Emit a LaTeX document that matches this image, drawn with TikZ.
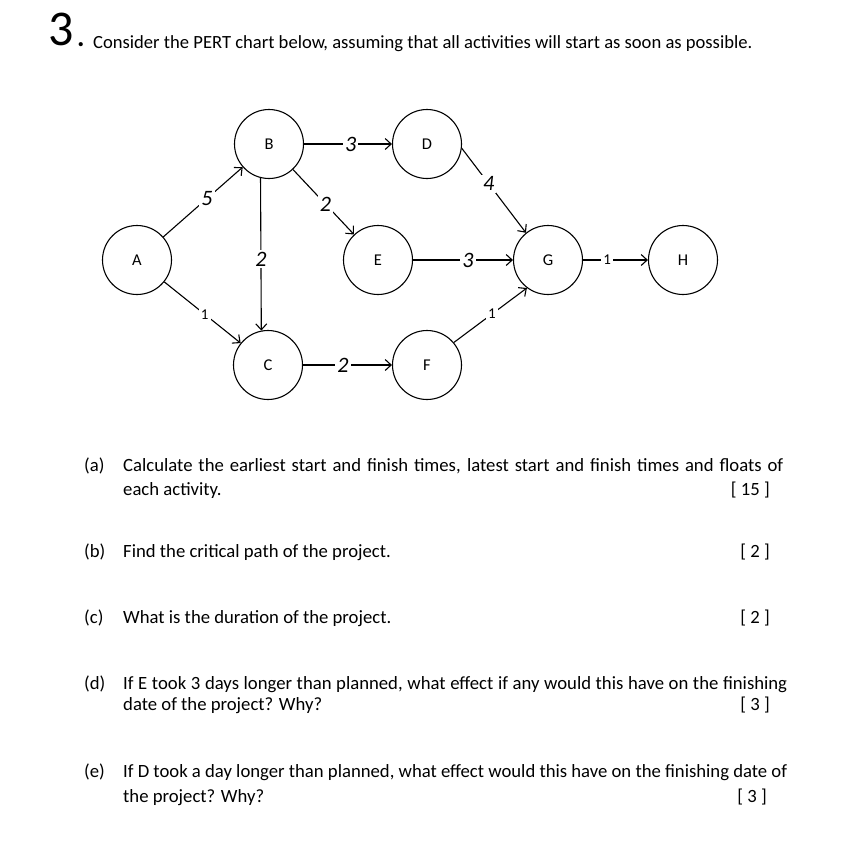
\documentclass[tikz,border=0pt]{standalone}
\usepackage{fontspec}
\setmainfont{Carlito}
\usetikzlibrary{arrows.meta}
\begin{document}
\begin{tikzpicture}[x=1pt,y=-1pt,
  ev/.style={draw,circle,minimum size=69pt,inner sep=0pt,line width=1.1pt,font=\fontsize{16.5}{18}\selectfont},
  act/.style={line width=1.1pt,-{Straight Barb[length=6pt,width=11pt,line width=1.1pt]}},
  lab/.style={fill=white,inner sep=2pt,font=\fontsize{22}{24}\selectfont\itshape},
  labs/.style={fill=white,inner sep=2pt,font=\fontsize{15}{18}\selectfont},
  txt/.style={anchor=base west,inner sep=0pt,font=\fontsize{18.7}{22}\selectfont},
  mk/.style={anchor=base east,inner sep=0pt,font=\fontsize{18.7}{22}\selectfont}]
\useasboundingbox (0,0) rectangle (865,841);
\fill[white] (0,0) rectangle (865,841);
% header
\node[anchor=base west,inner sep=0pt,font=\fontsize{50}{52}\selectfont] (num) at (48,45) {3};
\node[anchor=base west,inner sep=0pt,font=\fontsize{28}{30}\selectfont\bfseries] (dot) at (77,46) {.};
\node[txt,font=\fontsize{18.6}{22}\selectfont] (intro) at (93,48) {Consider the PERT chart below, assuming that all activities will start as soon as possible.};
% events
\node[ev] (A) at (137,260) {A};
\node[ev] (B) at (269,144) {B};
\node[ev] (D) at (427,144) {D};
\node[ev] (E) at (378,260) {E};
\node[ev] (C) at (268,365) {C};
\node[ev] (F) at (427,365) {F};
\node[ev] (G) at (548,260) {G};
\node[ev] (H) at (683,260) {H};
% activities
\draw[act] (A) -- node[lab,pos=.55] {5} (B);
\draw[act] (A) -- node[labs,pos=.53] {1} (C);
\draw[act] (B.256) -- node[lab,pos=.53] {2} (C.101);
\draw[act] (B) -- node[lab,pos=.53] {3} (D);
\draw[act] (B) -- node[lab,pos=.53] {2} (E);
\draw[act] (D.-7) -- node[lab,pos=.42] {4} (G.129);
\draw[act] (E) -- node[lab,pos=.55] {3} (G);
\draw[act] (C) -- node[lab,pos=.45] {2} (F);
\draw[act] (F.40) -- node[labs,pos=.52] {1} (G.233);
\draw[act] (G) -- node[labs,pos=.37] {1} (H);
% questions
\node[txt] (qa) at (84,471) {(a)};
\node[txt] (ta1) at (123,471) {\makebox[660pt][s]{Calculate the earliest start and finish times, latest start and finish times and floats of}};
\node[txt] (ta2) at (123,495) {each activity.};
\node[mk] (ma) at (770,495) {[ 15 ]};
\node[txt] (qb) at (84,557) {(b)};
\node[txt] (tb) at (123,557) {Find the critical path of the project.};
\node[mk] (mb) at (770,557) {[ 2 ]};
\node[txt] (qc) at (84,623) {(c)};
\node[txt] (tc) at (123,623) {What is the duration of the project.};
\node[mk] (mc) at (770,623) {[ 2 ]};
\node[txt] (qd) at (84,689) {(d)};
\node[txt] (td1) at (123,689) {\makebox[664pt][s]{If E took 3 days longer than planned, what effect if any would this have on the finishing}};
\node[txt] (td2) at (123,710) {date of the project? Why?};
\node[mk] (md) at (770,710) {[ 3 ]};
\node[txt] (qe) at (84,777) {(e)};
\node[txt] (te1) at (123,777) {\makebox[664pt][s]{If D took a day longer than planned, what effect would this have on the finishing date of}};
\node[txt] (te2) at (123,802) {the project? Why?};
\node[mk] (me) at (767,802) {[ 3 ]};
\end{tikzpicture}
\end{document}
